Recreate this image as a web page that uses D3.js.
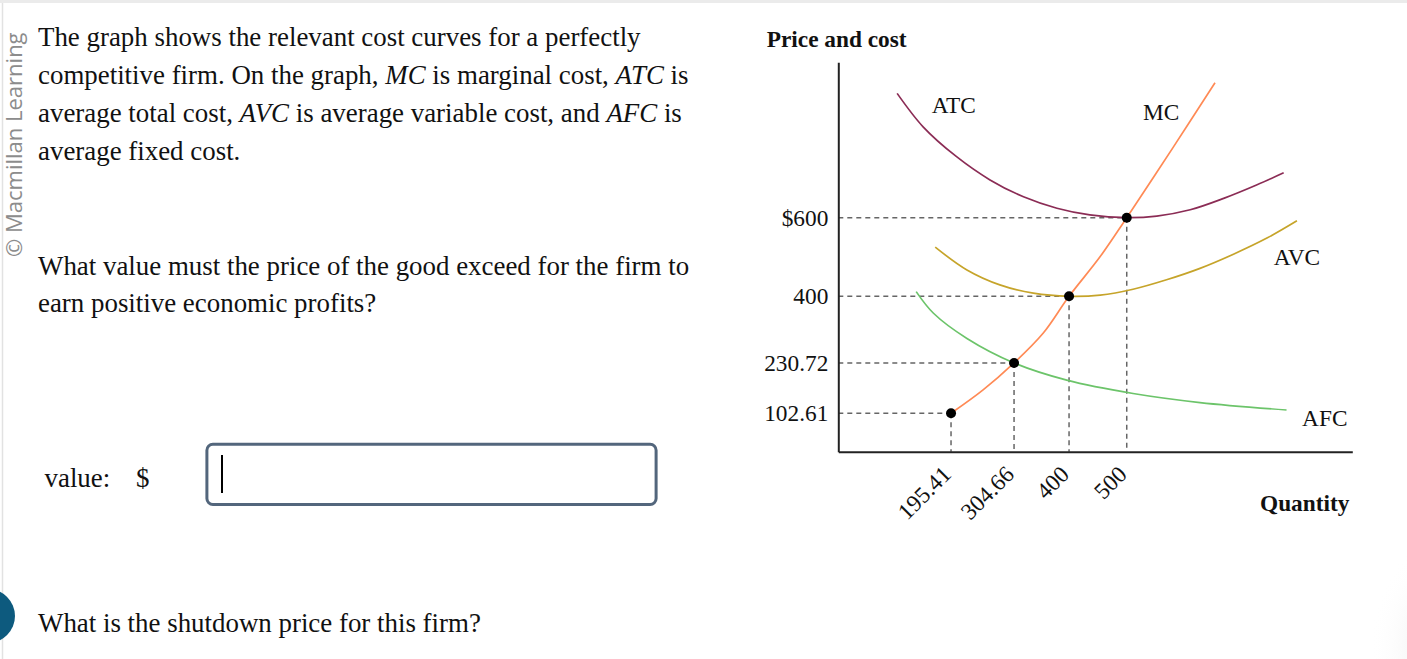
<!DOCTYPE html>
<html>
<head>
<meta charset="utf-8">
<script src="https://cdn.jsdelivr.net/npm/d3@7"></script>
<style>
  html, body { margin: 0; padding: 0; background: #fff; overflow: hidden; }
  svg { display: block; }
</style>
</head>
<body>
<svg id="svg"></svg>
<script>
const width = 1407;
const height = 659;

// curve points: [quantity, cost]
const atc = [[102, 916], [147, 831], [205, 755], [263, 696], [321, 653], [379, 624], [436, 607],
             [500, 600], [552, 604], [610, 620], [668, 649], [725, 683], [772, 714]];
const avc = [[168, 525], [223, 467], [280, 429], [338, 408], [400, 400], [454, 403], [511, 418],
             [569, 442], [627, 471], [685, 507], [743, 548], [795, 592]];
const afc = [[135, 412], [165, 357], [223, 293], [304.66, 230.72], [396, 187], [511, 153],
             [627, 130], [777, 111]];
const mc = [[195.41, 102.61], [251, 162], [304.66, 230.72], [355, 306], [400, 400], [454, 501],
            [500, 600], [581, 780], [653, 943]];

// points where MC meets the other curves
const keyPoints = [[195.41, 102.61], [304.66, 230.72], [400, 400], [500, 600]];

const yTicks = [102.61, 230.72, 400, 600];
const yTickLabels = ["102.61", "230.72", "400", "$600"];
const xTicks = [195.41, 304.66, 400, 500];
const xTickLabels = ["195.41", "304.66", "400", "500"];

const curveLabels = [
    { name: "ATC", q: 162, v: 867 },
    { name: "MC", q: 528, v: 848 },
    { name: "AVC", q: 755, v: 480 },
    { name: "AFC", q: 804, v: 70 }
];

const serif = "'Liberation Serif', 'Times New Roman', Times, serif";

let svg = d3.select("#svg")
    .attr("width", width)
    .attr("height", height)
    .attr("viewBox", [0, 0, width, height]);

// soft shade in the bottom right corner
let grad = svg.append("defs").append("radialGradient")
    .attr("id", "shade")
    .attr("cx", 0.5).attr("cy", 0.5).attr("r", 0.5);
grad.append("stop").attr("offset", "0%").attr("stop-color", "#e9e9e9");
grad.append("stop").attr("offset", "100%").attr("stop-color", "#fff").attr("stop-opacity", 0);
svg.append("ellipse")
    .attr("cx", 1440).attr("cy", 650).attr("rx", 70).attr("ry", 110)
    .attr("fill", "url(#shade)");

// page frame
svg.append("rect").attr("x", 0).attr("y", 0).attr("width", width).attr("height", 3).attr("fill", "#ebebeb");
svg.append("line").attr("x1", 2.5).attr("x2", 2.5).attr("y1", 3).attr("y2", height)
    .attr("stroke", "#e2e2e2").attr("stroke-width", 1.5);

svg.append("text")
    .text("\u00A9 Macmillan Learning")
    .attr("transform", "translate(21.5, 257) rotate(-90)")
    .attr("font-family", "'Open Sans', sans-serif")
    .attr("font-size", "22px")
    .attr("fill", "#8c8c8c");

// question text
const lines = [
    { y: 46, parts: [["The graph shows the relevant cost curves for a perfectly", false]] },
    { y: 84, parts: [["competitive firm. On the graph, ", false], ["MC", true], [" is marginal cost, ", false], ["ATC", true], [" is", false]] },
    { y: 122, parts: [["average total cost, ", false], ["AVC", true], [" is average variable cost, and ", false], ["AFC", true], [" is", false]] },
    { y: 160, parts: [["average fixed cost.", false]] },
    { y: 275, parts: [["What value must the price of the good exceed for the firm to", false]] },
    { y: 312, parts: [["earn positive economic profits?", false]] },
    { y: 632, parts: [["What is the shutdown price for this firm?", false]] }
];

let question = svg.append("g")
    .attr("font-family", serif)
    .attr("font-size", "26.9px")
    .attr("fill", "#111");

lines.forEach(line => {
    let t = question.append("text").attr("x", 38).attr("y", line.y);
    line.parts.forEach(p => {
        t.append("tspan").text(p[0]).attr("font-style", p[1] ? "italic" : "normal");
    });
});

question.append("text").text("value:").attr("x", 44.5).attr("y", 487);
question.append("text").text("$").attr("x", 136).attr("y", 487);

// answer box
svg.append("rect")
    .attr("x", 206.9).attr("y", 444.2)
    .attr("width", 449.2).attr("height", 60.3)
    .attr("rx", 6)
    .attr("fill", "#fff")
    .attr("stroke", "#53667c")
    .attr("stroke-width", 3);
svg.append("rect")
    .attr("x", 221).attr("y", 455)
    .attr("width", 2).attr("height", 38)
    .attr("fill", "#000");

// step marker at the left edge
svg.append("circle")
    .attr("cx", -12).attr("cy", 616).attr("r", 27)
    .attr("fill", "#0d5a7e");

// chart
let xScale = d3.scaleLinear()
    .domain([0, 891])
    .range([838.3, 1352.3]);

let yScale = d3.scaleLinear()
    .domain([5, 995])
    .range([451.7, 62.3]);

let chart = svg.append("g").attr("font-family", serif);

// dashed guides
chart.append("g")
    .selectAll(".guide-h")
    .data(keyPoints)
    .enter()
    .append("line")
        .attr("class", "guide-h")
        .attr("x1", xScale(0))
        .attr("x2", d => xScale(d[0]))
        .attr("y1", d => yScale(d[1]))
        .attr("y2", d => yScale(d[1]))
        .attr("stroke", "#666")
        .attr("stroke-width", 1.5)
        .attr("stroke-dasharray", "5,4");

chart.append("g")
    .selectAll(".guide-v")
    .data(keyPoints)
    .enter()
    .append("line")
        .attr("class", "guide-v")
        .attr("x1", d => xScale(d[0]))
        .attr("x2", d => xScale(d[0]))
        .attr("y1", d => yScale(d[1]))
        .attr("y2", yScale(5))
        .attr("stroke", "#666")
        .attr("stroke-width", 1.5)
        .attr("stroke-dasharray", "5,4");

let line = d3.line()
    .x(d => xScale(d[0]))
    .y(d => yScale(d[1]))
    .curve(d3.curveCatmullRom.alpha(0.5));

const curves = [
    { data: afc, colour: "#6cc46a" },
    { data: avc, colour: "#c6a42a" },
    { data: atc, colour: "#8b2c55" },
    { data: mc, colour: "#ff8a55" }
];

chart.append("g")
    .selectAll(".curve")
    .data(curves)
    .enter()
    .append("path")
        .attr("class", "curve")
        .attr("d", d => line(d.data))
        .attr("fill", "none")
        .attr("stroke", d => d.colour)
        .attr("stroke-width", 1.7);

chart.append("g")
    .selectAll(".dot")
    .data(keyPoints)
    .enter()
    .append("circle")
        .attr("class", "dot")
        .attr("cx", d => xScale(d[0]))
        .attr("cy", d => yScale(d[1]))
        .attr("r", 5)
        .attr("fill", "#000");

// axes
let yAxis = chart.append("g")
    .attr("transform", `translate(${xScale(0)}, 0)`)
    .call(d3.axisLeft(yScale)
        .tickValues(yTicks)
        .tickFormat((d, i) => yTickLabels[i])
        .tickSize(0)
        .tickPadding(10));

let xAxis = chart.append("g")
    .attr("transform", `translate(0, ${yScale(5)})`)
    .call(d3.axisBottom(xScale)
        .tickValues(xTicks)
        .tickFormat((d, i) => xTickLabels[i])
        .tickSize(0));

[yAxis, xAxis].forEach(ax => {
    ax.attr("font-family", serif).attr("font-size", null);
    ax.select(".domain").attr("stroke", "#222").attr("stroke-width", 2);
    ax.selectAll("text").attr("fill", "#111").style("font-size", "23.33px");
});

xAxis.selectAll("text")
    .attr("x", 0)
    .attr("y", 0)
    .attr("dy", 0)
    .style("text-anchor", "end")
    .attr("transform", "translate(1, 24) rotate(-45)");

chart.append("g")
    .selectAll(".curve-label")
    .data(curveLabels)
    .enter()
    .append("text")
        .attr("class", "curve-label")
        .text(d => d.name)
        .attr("x", d => xScale(d.q))
        .attr("y", d => yScale(d.v))
        .attr("font-size", "23.33px")
        .attr("fill", "#111");

chart.append("text")
    .text("Price and cost")
    .attr("x", 766.7)
    .attr("y", 47)
    .attr("font-size", "23.33px")
    .attr("font-weight", "bold")
    .attr("fill", "#111");

chart.append("text")
    .text("Quantity")
    .attr("x", 1260)
    .attr("y", 511)
    .attr("font-size", "23.33px")
    .attr("font-weight", "bold")
    .attr("fill", "#111");

svg.node();
</script>
</body>
</html>
